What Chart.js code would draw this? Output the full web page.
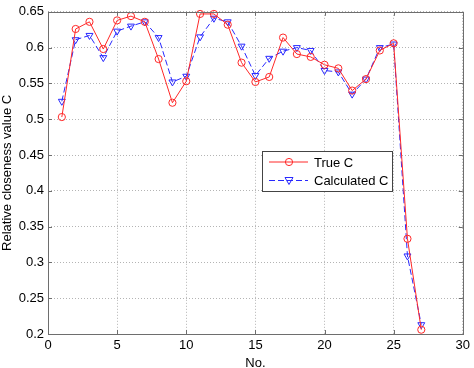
<!DOCTYPE html>
<html>
<head>
<meta charset="utf-8">
<script src="https://cdn.jsdelivr.net/npm/chart.js@4/dist/chart.umd.min.js"></script>
<style>
html,body{margin:0;padding:0;background:#fff;}
canvas{display:block;}
</style>
</head>
<body>
<canvas id="c" width="474" height="368"></canvas>
<script>
const sampleNo = [1,2,3,4,5,6,7,8,9,10,11,12,13,14,15,16,17,18,19,20,21,22,23,24,25,26,27];
const trueC = [0.503,0.626,0.636,0.598,0.638,0.644,0.636,0.584,0.523,0.553,0.647,0.647,0.632,0.579,0.552,0.559,0.614,0.591,0.587,0.576,0.571,0.540,0.556,0.596,0.606,0.333,0.206];
const calcC = [0.525,0.611,0.617,0.586,0.623,0.630,0.636,0.614,0.552,0.560,0.615,0.641,0.636,0.602,0.561,0.585,0.595,0.600,0.596,0.568,0.566,0.535,0.556,0.600,0.605,0.309,0.213];
const seriesNames = ['True C','Calculated C'];
const xTitle = 'No.';
const yTitle = 'Relative closeness value C';

const FONT = 'Liberation Sans, Arial, sans-serif';
const toPts = ys => sampleNo.map((x,i)=>({x:x,y:ys[i]}));

const boxPlugin = {
  id:'boxPlugin',
  afterDatasetsDraw(chart){
    const ctx = chart.ctx, a = chart.chartArea;
    const xs = chart.scales.x, ys = chart.scales.y;
    ctx.save();
    ctx.strokeStyle = '#6e6e6e';
    ctx.lineWidth = 1;
    ctx.beginPath();
    // inward ticks
    xs.ticks.forEach(t=>{
      const px = Math.round(xs.getPixelForValue(t.value))+0.5;
      ctx.moveTo(px,a.bottom); ctx.lineTo(px,a.bottom-4);
      ctx.moveTo(px,a.top); ctx.lineTo(px,a.top+4);
    });
    ys.ticks.forEach(t=>{
      const py = Math.round(ys.getPixelForValue(t.value))+0.5;
      ctx.moveTo(a.left,py); ctx.lineTo(a.left+4,py);
      ctx.moveTo(a.right,py); ctx.lineTo(a.right-4,py);
    });
    ctx.stroke();
    ctx.strokeRect(Math.round(a.left)+0.5, Math.round(a.top)+0.5, Math.round(a.right-a.left), Math.round(a.bottom-a.top));
    ctx.restore();
  },
  afterDraw(chart){
    // legend box
    const ctx = chart.ctx;
    const bx=262, by=151, bw=130, bh=40;
    ctx.save();
    ctx.fillStyle='#fff';
    ctx.fillRect(bx,by,bw,bh);
    ctx.strokeStyle='#444';
    ctx.lineWidth=1;
    ctx.strokeRect(bx+0.5,by+0.5,bw,bh);
    chart.data.datasets.forEach((ds,i)=>{
      const yy = by + 11 + i*18.5;
      ctx.strokeStyle = ds.borderColor;
      ctx.setLineDash(ds.borderDash||[]);
      ctx.beginPath(); ctx.moveTo(bx+7,yy); ctx.lineTo(bx+46,yy); ctx.stroke();
      ctx.setLineDash([]);
      ctx.beginPath();
      if(ds.pointStyle==='circle'){
        ctx.arc(bx+27,yy,3.6,0,Math.PI*2);
      } else {
        ctx.moveTo(bx+23,yy-3); ctx.lineTo(bx+31,yy-3); ctx.lineTo(bx+27,yy+4); ctx.closePath();
      }
      ctx.stroke();
      ctx.fillStyle='#000';
      ctx.font='13px '+FONT;
      ctx.textBaseline='middle';
      ctx.textAlign='left';
      ctx.fillText(ds.label,bx+52,yy+1);
    });
    ctx.restore();
  }
};

new Chart(document.getElementById('c'),{
  type:'line',
  data:{
    datasets:[
      {label:seriesNames[0],data:toPts(trueC),borderColor:'rgb(255,40,40)',backgroundColor:'rgba(0,0,0,0)',
       borderWidth:1,pointStyle:'circle',pointRadius:3.6,pointBorderWidth:1,pointBorderColor:'rgb(255,40,40)',
       pointBackgroundColor:'rgba(0,0,0,0)',tension:0,clip:6},
      {label:seriesNames[1],data:toPts(calcC),borderColor:'rgb(40,40,255)',backgroundColor:'rgba(0,0,0,0)',
       borderWidth:1,borderDash:[6,3],pointStyle:'triangle',pointRotation:180,pointRadius:4,pointBorderWidth:1,
       pointBorderColor:'rgb(40,40,255)',pointBackgroundColor:'rgba(0,0,0,0)',tension:0,clip:6}
    ]
  },
  options:{
    responsive:false,
    animation:false,
    devicePixelRatio:1,
    layout:{padding:{left:0,right:8,top:5,bottom:0}},
    plugins:{legend:{display:false},tooltip:{enabled:false}},
    scales:{
      x:{
        type:'linear',min:0,max:30,
        ticks:{stepSize:5,color:'#000',font:{family:FONT,size:13},padding:4,maxRotation:0},
        grid:{color:'#b4b4b4',drawTicks:false,lineWidth:1},
        border:{display:false,dash:[1,2]},
        title:{display:true,text:xTitle,color:'#000',font:{family:FONT,size:13},padding:{top:0,bottom:-3}},
        afterFit(s){s.height=34;}
      },
      y:{
        type:'linear',min:0.2,max:0.65,
        ticks:{stepSize:0.05,color:'#000',font:{family:FONT,size:13},padding:4,
          callback:v=>String(Math.round(v*100)/100)},
        grid:{color:'#b4b4b4',drawTicks:false,lineWidth:1},
        border:{display:false,dash:[1,2]},
        title:{display:true,text:yTitle,color:'#000',font:{family:FONT,size:13},padding:{top:0,bottom:0}},
        afterFit(s){s.width=48;}
      }
    }
  },
  plugins:[boxPlugin]
});
</script>
</body>
</html>
